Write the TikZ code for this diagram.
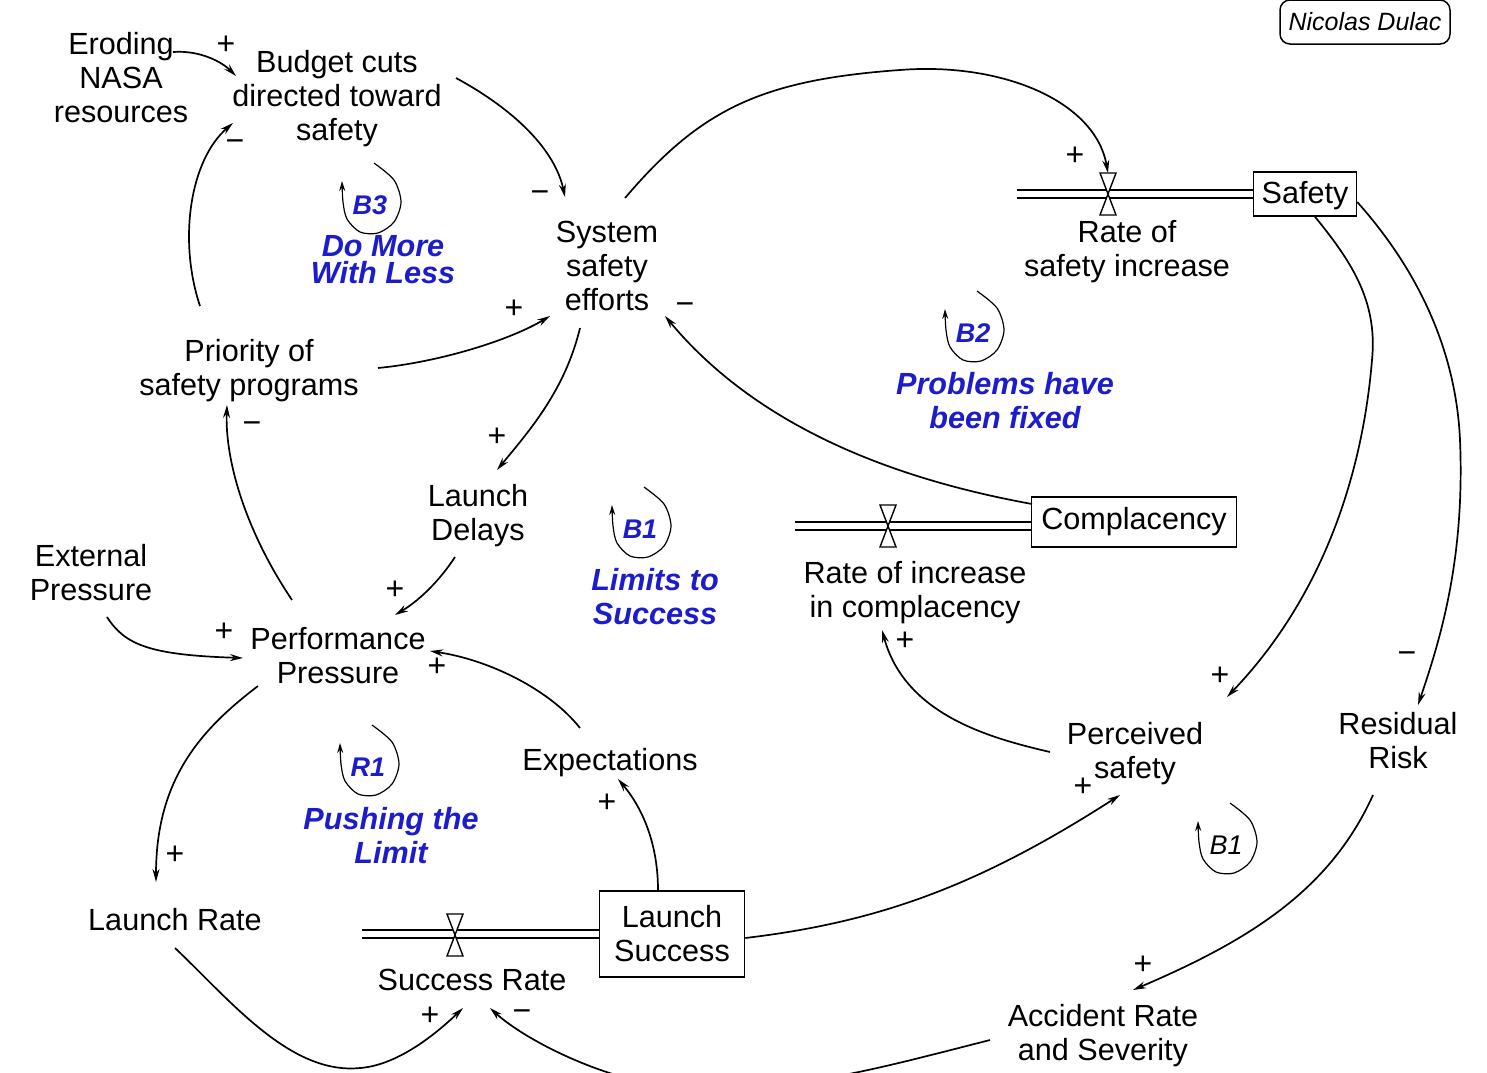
\documentclass[tikz,border=0pt]{standalone}
\usepackage{fontspec}
\setmainfont{Liberation Sans}
\usepackage{tikz}
\usetikzlibrary{arrows.meta}
\definecolor{loopblue}{RGB}{28,28,205}
\newcommand{\varsize}{\fontsize{15.3pt}{17pt}\selectfont}
\newcommand{\signsize}{\fontsize{16pt}{17pt}\selectfont}
\newcommand{\idsize}{\fontsize{13.5pt}{15pt}\selectfont}
\tikzset{
  loopsign/.pic={
    \draw[line width=0.6pt, -{Stealth[length=5pt,width=3pt]}] plot[smooth]
      coordinates {(4,-42) (24,-25) (31,-3) (24,17) (8,28) (-10,27) (-23,14) (-27,-3) (-28,-24)};
  }
}
\begin{document}
\begin{tikzpicture}[x=0.5pt, y=-0.5pt,
  var/.style={font=\varsize, align=center, inner sep=1pt},
  stock/.style={draw, line width=0.75pt, font=\varsize, align=center, inner sep=1pt},
  loopname/.style={font=\varsize\bfseries\itshape, text=loopblue, align=center},
  loopid/.style={font=\idsize\bfseries\itshape, text=loopblue, inner sep=0pt},
  sgn/.style={font=\signsize, inner sep=0pt},
  arr/.style={-{Stealth[length=6.5pt,width=3.5pt]}, line width=0.85pt},
  pipe/.style={double, double distance=3.4pt, line width=0.85pt},
  valve/.style={minimum width=8pt, minimum height=21pt, inner sep=0pt, outer sep=0pt},
]
\useasboundingbox (0,0) rectangle (1487,1072);
\clip (0,0) rectangle (1487,1072);

\node[draw, rounded corners=5pt, line width=0.75pt, font=\fontsize{12.5pt}{14pt}\selectfont\itshape,
  minimum width=85pt, minimum height=22pt] (author) at (1365,22) {Nicolas Dulac};

\node[var] (erode) at (121,78) {Eroding\\NASA\\resources};
\node[var] (budget) at (337,99) {Budget cuts\\directed toward\\safety};
\node[var] (effort) at (607,266) {System\\safety\\efforts};
\node[var] (prio) at (249,371) {Priority of\\safety programs};
\node[var] (delay) at (478,516) {Launch\\Delays};
\node[var] (extp) at (91,573) {External\\Pressure};
\node[var] (perf) at (338,656) {Performance\\Pressure};
\node[var] (lrate) at (175,920) {Launch Rate};
\node[var] (expect) at (610,763) {Expectations};
\node[var] (srate) at (472,980) {Success Rate};
\node[var] (ratec) at (915,593) {Rate of increase\\in complacency};
\node[var] (rates) at (1127,252) {Rate of\\safety increase};
\node[var] (perc) at (1135,754) {Perceived\\safety};
\node[var] (resid) at (1398,741) {Residual\\Risk};
\node[var] (accid) at (1103,1036) {Accident Rate\\and Severity};

\node[stock, minimum width=72.5pt, minimum height=43pt] (lsucc) at (672,934) {Launch\\Success};
\node[stock, minimum width=102.5pt, minimum height=25pt] (compl) at (1134,522) {Complacency};
\node[stock, minimum width=51.5pt, minimum height=22pt, text height=13pt, text depth=4pt] (safety) at (1305,194) {Safety};

\coordinate (srcS) at (1017,194);
\coordinate (srcC) at (795,526);
\coordinate (srcL) at (362,934);
\draw[pipe] (srcS) -- (safety.west);
\draw[pipe] (srcC) -- (srcC -| compl.west);
\draw[pipe] (srcL) -- (srcL -| lsucc.west);

\node[valve] (vsafe) at (1108,194) {};
\node[valve] (vcompl) at (888,526) {};
\node[valve] (vsucc) at (455,935) {};
\foreach \v in {vsafe,vcompl,vsucc}
  \filldraw[fill=white, line width=0.7pt] (\v.north west) -- (\v.north east)
    -- (\v.south west) -- (\v.south east) -- cycle;

\draw[arr] ([shift={(52,-26)}]erode.center) .. controls (200,50) and (222,62) .. ([shift={(-101,-23)}]budget.center);
\draw[arr] ([shift={(-49,-65)}]prio.center) .. controls (178,240) and (190,160) .. ([shift={(-104,24)}]budget.center);
\draw[arr] ([shift={(119,-21)}]budget.center) .. controls (515,110) and (555,150) .. ([shift={(-42,-69)}]effort.center);
\draw[arr] ([shift={(129,-3)}]prio.center) .. controls (440,362) and (510,340) .. ([shift={(-57,50)}]effort.center);
\draw[arr] ([shift={(18,-68)}]effort.center) .. controls (700,110) and (760,80) .. (900,70)
  .. controls (1000,62) and (1095,100) .. (vsafe.north);
\draw[arr] ([shift={(-102,-18)}]compl.center) .. controls (900,480) and (760,430) .. ([shift={(58,50)}]effort.center);
\draw[arr] ([shift={(-27,62)}]effort.center) .. controls (565,390) and (530,430) .. ([shift={(19,-46)}]delay.center);
\draw[arr] ([shift={(-23,41)}]delay.center) .. controls (440,580) and (420,600) .. ([shift={(57,-41)}]perf.center);
\draw[arr] ([shift={(16,44)}]extp.center) .. controls (125,645) and (150,655) .. ([shift={(-95,2)}]perf.center);
\draw[arr] ([shift={(-46,-56)}]perf.center) .. controls (245,530) and (225,460) .. ([shift={(-22,34)}]prio.center);
\draw[arr] ([shift={(-30,-35)}]expect.center) .. controls (550,690) and (490,660) .. ([shift={(92,-5)}]perf.center);
\draw[arr] ([shift={(-80,30)}]perf.center) .. controls (200,730) and (156,780) .. ([shift={(-19,-38)}]lrate.center);
\draw[arr] ([shift={(-14,0)}]lsucc.north) .. controls (658,840) and (640,805) .. ([shift={(8,16)}]expect.center);
\draw[arr] ([shift={(0,28)}]lrate.center) .. controls (230,1000) and (290,1075) .. (360,1068)
  .. controls (400,1065) and (440,1030) .. ([shift={(-9,28)}]srate.center);
\draw[arr] ([shift={(-113,4)}]accid.center) .. controls (880,1068) and (820,1085) .. (715,1090)
  .. controls (620,1092) and (525,1040) .. ([shift={(18,28)}]srate.center);
\draw[arr] ([shift={(0,4)}]lsucc.east) .. controls (880,922) and (980,885) .. ([shift={(-15,41)}]perc.center);
\draw[arr] ([shift={(-85,-2)}]perc.center) .. controls (990,738) and (905,715) .. ([shift={(-33,37)}]ratec.center);
\draw[arr] ([shift={(10,0)}]safety.south) .. controls (1350,260) and (1378,300) .. (1372,360)
  .. controls (1362,480) and (1320,600) .. ([shift={(92,-57)}]perc.center);
\draw[arr] ([shift={(0,8)}]safety.east) .. controls (1400,250) and (1455,330) .. (1460,440)
  .. controls (1465,560) and (1440,640) .. ([shift={(20,-36)}]resid.center);
\draw[arr] ([shift={(-25,54)}]resid.center) .. controls (1330,890) and (1250,940) .. ([shift={(30,-46)}]accid.center);

\foreach \x/\y/\s [count=\i] in {226/45/+, 235/146/−, 540/197/−, 514/309/+, 1075/156/+,
  685/309/−, 497/437/+, 395/590/+, 224/632/+, 252/428/−, 437/667/+, 175/855/+, 607/803/+,
  430/1016/+, 522/1016/−, 1083/787/+, 905/641/+, 1220/676/+, 1407/658/−, 1143/965/+}
  \node[sgn] (sign\i) at (\x,\y) {\s};

\pic at (370,205) {loopsign};
\pic at (973,333) {loopsign};
\pic at (640,529) {loopsign};
\pic at (368,767) {loopsign};
\pic at (1226,845) {loopsign};
\node[loopid] (b3) at (370,205) {B3};
\node[loopid] (b2) at (973,333) {B2};
\node[loopid] (b1) at (640,529) {B1};
\node[loopid] (r1) at (368,767) {R1};
\node[loopid, text=black, font=\idsize\itshape] (b1r) at (1226,845) {B1};

\node[loopname] (less) at (383,260) {Do More\\[-3.5pt]With Less};
\node[loopname] (fixed) at (1005,401) {Problems have\\been fixed};
\node[loopname] (limits) at (655,597) {Limits to\\Success};
\node[loopname] (push) at (391,836) {Pushing the\\Limit};
\end{tikzpicture}
\end{document}
